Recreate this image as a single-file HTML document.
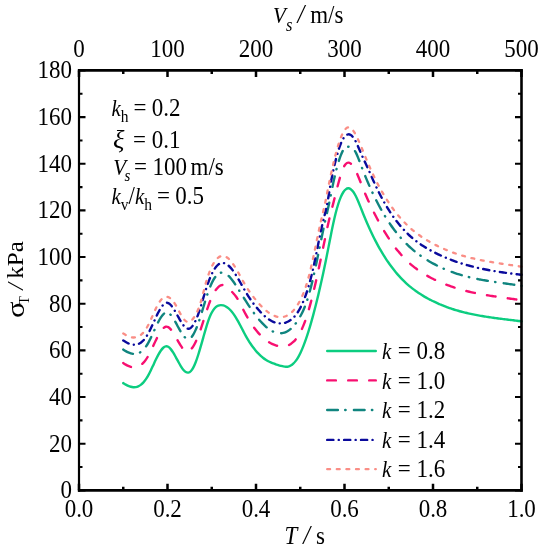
<!DOCTYPE html>
<html><head><meta charset="utf-8"><title>chart</title>
<style>
html,body{margin:0;padding:0;background:#fff;}
body{width:542px;height:550px;overflow:hidden;}
svg text.t{font-family:"Liberation Serif","DejaVu Serif",serif;font-size:23.0px;fill:#000;}
svg .i{font-style:italic;font-size:21px;}
svg .s{font-size:15.5px;}
svg .s.i{font-size:15px;}
</style></head><body>
<svg width="542" height="550" viewBox="0 0 542 550" style="display:block">
<rect x="0" y="0" width="542" height="550" fill="#fff"/>
<path d="M79.00 490.35 v-6.5 M79.00 70.45 v6.5 M123.25 490.35 v-3.5 M123.25 70.45 v3.5 M167.50 490.35 v-6.5 M167.50 70.45 v6.5 M211.75 490.35 v-3.5 M211.75 70.45 v3.5 M256.00 490.35 v-6.5 M256.00 70.45 v6.5 M300.25 490.35 v-3.5 M300.25 70.45 v3.5 M344.50 490.35 v-6.5 M344.50 70.45 v6.5 M388.75 490.35 v-3.5 M388.75 70.45 v3.5 M433.00 490.35 v-6.5 M433.00 70.45 v6.5 M477.25 490.35 v-3.5 M477.25 70.45 v3.5 M521.50 490.35 v-6.5 M521.50 70.45 v6.5" stroke="#000" stroke-width="2.5" fill="none"/>
<path d="M79.0 490.35 h6.5 M521.5 490.35 h-6.5 M79.0 467.02 h3.5 M521.5 467.02 h-3.5 M79.0 443.69 h6.5 M521.5 443.69 h-6.5 M79.0 420.37 h3.5 M521.5 420.37 h-3.5 M79.0 397.04 h6.5 M521.5 397.04 h-6.5 M79.0 373.71 h3.5 M521.5 373.71 h-3.5 M79.0 350.38 h6.5 M521.5 350.38 h-6.5 M79.0 327.06 h3.5 M521.5 327.06 h-3.5 M79.0 303.73 h6.5 M521.5 303.73 h-6.5 M79.0 280.40 h3.5 M521.5 280.40 h-3.5 M79.0 257.07 h6.5 M521.5 257.07 h-6.5 M79.0 233.74 h3.5 M521.5 233.74 h-3.5 M79.0 210.42 h6.5 M521.5 210.42 h-6.5 M79.0 187.09 h3.5 M521.5 187.09 h-3.5 M79.0 163.76 h6.5 M521.5 163.76 h-6.5 M79.0 140.43 h3.5 M521.5 140.43 h-3.5 M79.0 117.11 h6.5 M521.5 117.11 h-6.5 M79.0 93.78 h3.5 M521.5 93.78 h-3.5 M79.0 70.45 h6.5 M521.5 70.45 h-6.5" stroke="#000" stroke-width="2.1" fill="none"/>
<path d="M123.26 383.12 C123.68 383.37 124.93 384.18 125.76 384.64 C126.59 385.10 127.43 385.54 128.26 385.89 C129.09 386.24 129.93 386.54 130.76 386.76 C131.59 386.98 132.43 387.13 133.26 387.18 C134.09 387.23 134.93 387.20 135.76 387.06 C136.59 386.92 137.43 386.68 138.26 386.31 C139.09 385.94 139.93 385.47 140.76 384.85 C141.59 384.23 142.43 383.49 143.26 382.59 C144.09 381.69 144.93 380.65 145.76 379.44 C146.59 378.23 147.43 376.84 148.26 375.34 C149.09 373.84 149.93 372.14 150.76 370.44 C151.59 368.74 152.43 366.92 153.26 365.15 C154.09 363.38 154.93 361.55 155.76 359.84 C156.59 358.13 157.43 356.43 158.26 354.91 C159.09 353.40 159.93 351.94 160.76 350.75 C161.59 349.56 162.43 348.50 163.26 347.76 C164.09 347.02 164.93 346.49 165.76 346.33 C166.59 346.17 167.43 346.35 168.26 346.81 C169.09 347.27 169.93 348.12 170.76 349.10 C171.59 350.08 172.43 351.36 173.26 352.68 C174.09 354.00 174.93 355.55 175.76 357.05 C176.59 358.55 177.43 360.17 178.26 361.67 C179.09 363.17 179.93 364.72 180.76 366.05 C181.59 367.38 182.43 368.68 183.26 369.67 C184.09 370.66 184.93 371.51 185.76 372.00 C186.59 372.49 187.43 372.74 188.26 372.61 C189.09 372.48 189.93 372.06 190.76 371.24 C191.59 370.42 192.43 369.21 193.26 367.67 C194.09 366.13 194.93 364.16 195.76 362.01 C196.59 359.86 197.43 357.35 198.26 354.75 C199.09 352.15 199.93 349.29 200.76 346.43 C201.59 343.57 202.43 340.51 203.26 337.58 C204.09 334.65 204.93 331.63 205.76 328.86 C206.59 326.09 207.43 323.34 208.26 320.96 C209.09 318.58 209.93 316.40 210.76 314.58 C211.59 312.76 212.43 311.30 213.26 310.06 C214.09 308.82 214.93 307.89 215.76 307.15 C216.59 306.40 217.43 305.93 218.26 305.59 C219.09 305.25 219.93 305.13 220.76 305.10 C221.59 305.07 222.43 305.20 223.26 305.42 C224.09 305.64 224.93 305.99 225.76 306.45 C226.59 306.91 227.43 307.48 228.26 308.16 C229.09 308.84 229.93 309.64 230.76 310.55 C231.59 311.46 232.43 312.49 233.26 313.63 C234.09 314.77 234.93 316.03 235.76 317.37 C236.59 318.71 237.43 320.18 238.26 321.68 C239.09 323.18 239.93 324.78 240.76 326.35 C241.59 327.93 242.43 329.56 243.26 331.13 C244.09 332.70 244.93 334.30 245.76 335.80 C246.59 337.30 247.43 338.76 248.26 340.13 C249.09 341.50 249.93 342.80 250.76 344.04 C251.59 345.28 252.43 346.44 253.26 347.55 C254.09 348.66 254.93 349.70 255.76 350.68 C256.59 351.66 257.43 352.58 258.26 353.45 C259.09 354.31 259.93 355.12 260.76 355.87 C261.59 356.62 262.43 357.31 263.26 357.96 C264.09 358.61 264.93 359.20 265.76 359.75 C266.59 360.30 267.43 360.79 268.26 361.24 C269.09 361.69 269.93 362.09 270.76 362.46 C271.59 362.83 272.43 363.15 273.26 363.46 C274.09 363.77 274.93 364.04 275.76 364.31 C276.59 364.58 277.43 364.82 278.26 365.07 C279.09 365.32 279.93 365.57 280.76 365.80 C281.59 366.03 282.43 366.28 283.26 366.44 C284.09 366.60 284.93 366.75 285.76 366.77 C286.59 366.79 287.43 366.75 288.26 366.55 C289.09 366.35 289.93 366.04 290.76 365.56 C291.59 365.08 292.43 364.46 293.26 363.68 C294.09 362.90 294.93 361.96 295.76 360.86 C296.59 359.76 297.43 358.50 298.26 357.06 C299.09 355.62 299.93 354.00 300.76 352.22 C301.59 350.44 302.43 348.48 303.26 346.39 C304.09 344.30 304.93 342.04 305.76 339.66 C306.59 337.28 307.43 334.74 308.26 332.10 C309.09 329.46 309.93 326.69 310.76 323.82 C311.59 320.95 312.43 317.96 313.26 314.88 C314.09 311.80 314.93 308.60 315.76 305.31 C316.59 302.02 317.43 298.62 318.26 295.12 C319.09 291.62 319.93 288.01 320.76 284.31 C321.59 280.61 322.43 276.81 323.26 272.91 C324.09 269.01 324.93 265.00 325.76 260.91 C326.59 256.82 327.43 252.57 328.26 248.36 C329.09 244.15 329.93 239.78 330.76 235.65 C331.59 231.52 332.43 227.36 333.26 223.55 C334.09 219.75 334.93 216.08 335.76 212.82 C336.59 209.56 337.43 206.61 338.26 203.99 C339.09 201.37 339.93 199.08 340.76 197.12 C341.59 195.16 342.43 193.53 343.26 192.23 C344.09 190.93 344.93 189.97 345.76 189.32 C346.59 188.67 347.43 188.34 348.26 188.31 C349.09 188.28 349.93 188.57 350.76 189.15 C351.59 189.73 352.43 190.62 353.26 191.77 C354.09 192.92 354.93 194.41 355.76 196.03 C356.59 197.65 357.43 199.57 358.26 201.51 C359.09 203.45 359.93 205.59 360.76 207.67 C361.59 209.75 362.43 211.92 363.26 213.98 C364.09 216.04 364.93 218.07 365.76 220.04 C366.59 222.01 367.43 223.93 368.26 225.80 C369.09 227.67 369.93 229.49 370.76 231.27 C371.59 233.05 372.43 234.78 373.26 236.47 C374.09 238.16 374.93 239.79 375.76 241.39 C376.59 242.99 377.43 244.55 378.26 246.06 C379.09 247.57 379.93 249.04 380.76 250.47 C381.59 251.90 382.43 253.29 383.26 254.64 C384.09 255.99 384.93 257.30 385.76 258.58 C386.59 259.86 387.43 261.09 388.26 262.29 C389.09 263.49 389.93 264.66 390.76 265.79 C391.59 266.92 392.43 268.02 393.26 269.09 C394.09 270.15 394.93 271.18 395.76 272.18 C396.59 273.18 397.43 274.15 398.26 275.09 C399.09 276.03 399.93 276.94 400.76 277.82 C401.59 278.70 402.43 279.56 403.26 280.39 C404.09 281.22 404.93 282.01 405.76 282.79 C406.59 283.57 407.43 284.31 408.26 285.04 C409.09 285.77 409.93 286.47 410.76 287.15 C411.59 287.83 412.43 288.49 413.26 289.13 C414.09 289.77 414.93 290.38 415.76 290.98 C416.59 291.58 417.43 292.16 418.26 292.72 C419.09 293.28 419.93 293.83 420.76 294.36 C421.59 294.89 422.43 295.40 423.26 295.90 C424.09 296.40 424.93 296.88 425.76 297.35 C426.59 297.82 427.43 298.27 428.26 298.72 C429.09 299.17 429.93 299.60 430.76 300.03 C431.59 300.46 432.43 300.88 433.26 301.28 C434.09 301.68 434.93 302.07 435.76 302.46 C436.59 302.84 437.43 303.22 438.26 303.59 C439.09 303.96 439.93 304.31 440.76 304.66 C441.59 305.01 442.43 305.35 443.26 305.68 C444.09 306.01 444.93 306.33 445.76 306.64 C446.59 306.95 447.43 307.26 448.26 307.56 C449.09 307.86 449.93 308.15 450.76 308.43 C451.59 308.71 452.43 308.98 453.26 309.25 C454.09 309.52 454.93 309.78 455.76 310.03 C456.59 310.28 457.43 310.53 458.26 310.77 C459.09 311.01 459.93 311.25 460.76 311.47 C461.59 311.70 462.43 311.91 463.26 312.12 C464.09 312.33 464.93 312.55 465.76 312.75 C466.59 312.95 467.43 313.15 468.26 313.34 C469.09 313.53 469.93 313.71 470.76 313.89 C471.59 314.07 472.43 314.25 473.26 314.42 C474.09 314.59 474.93 314.76 475.76 314.92 C476.59 315.08 477.43 315.24 478.26 315.39 C479.09 315.54 479.93 315.69 480.76 315.84 C481.59 315.98 482.43 316.12 483.26 316.26 C484.09 316.40 484.93 316.54 485.76 316.67 C486.59 316.80 487.43 316.93 488.26 317.05 C489.09 317.18 489.93 317.30 490.76 317.42 C491.59 317.54 492.43 317.65 493.26 317.77 C494.09 317.89 494.93 318.01 495.76 318.12 C496.59 318.23 497.43 318.34 498.26 318.45 C499.09 318.56 499.93 318.66 500.76 318.77 C501.59 318.88 502.43 318.98 503.26 319.08 C504.09 319.18 504.93 319.29 505.76 319.39 C506.59 319.49 507.43 319.60 508.26 319.70 C509.09 319.80 509.93 319.91 510.76 320.01 C511.59 320.11 512.43 320.21 513.26 320.31 C514.09 320.41 514.93 320.51 515.76 320.62 C516.59 320.73 517.43 320.83 518.26 320.94 C519.09 321.05 520.20 321.19 520.76 321.26 C521.32 321.33 521.46 321.35 521.60 321.37" fill="none" stroke="#0ccd80" stroke-width="2.4" stroke-linejoin="round" stroke-linecap="round"/>
<path d="M123.26 363.02 C123.68 363.29 124.93 364.16 125.76 364.65 C126.59 365.14 127.43 365.58 128.26 365.95 C129.09 366.32 129.93 366.63 130.76 366.86 C131.59 367.09 132.43 367.24 133.26 367.30 C134.09 367.36 134.93 367.34 135.76 367.20 C136.59 367.06 137.43 366.84 138.26 366.48 C139.09 366.12 139.93 365.66 140.76 365.06 C141.59 364.46 142.43 363.74 143.26 362.87 C144.09 362.00 144.93 361.00 145.76 359.84 C146.59 358.68 147.43 357.35 148.26 355.89 C149.09 354.43 149.93 352.77 150.76 351.10 C151.59 349.43 152.43 347.61 153.26 345.85 C154.09 344.09 154.93 342.25 155.76 340.53 C156.59 338.81 157.43 337.09 158.26 335.56 C159.09 334.03 159.93 332.55 160.76 331.33 C161.59 330.11 162.43 329.02 163.26 328.25 C164.09 327.48 164.93 326.92 165.76 326.73 C166.59 326.54 167.43 326.69 168.26 327.13 C169.09 327.56 169.93 328.39 170.76 329.34 C171.59 330.29 172.43 331.54 173.26 332.83 C174.09 334.12 174.93 335.62 175.76 337.07 C176.59 338.52 177.43 340.10 178.26 341.54 C179.09 342.98 179.93 344.46 180.76 345.71 C181.59 346.96 182.43 348.16 183.26 349.04 C184.09 349.92 184.93 350.65 185.76 351.00 C186.59 351.35 187.43 351.40 188.26 351.16 C189.09 350.92 189.93 350.35 190.76 349.54 C191.59 348.74 192.43 347.63 193.26 346.33 C194.09 345.03 194.93 343.46 195.76 341.72 C196.59 339.98 197.43 338.01 198.26 335.90 C199.09 333.79 199.93 331.47 200.76 329.06 C201.59 326.65 202.43 324.02 203.26 321.44 C204.09 318.86 204.93 316.12 205.76 313.56 C206.59 311.00 207.43 308.40 208.26 306.06 C209.09 303.72 209.93 301.51 210.76 299.52 C211.59 297.53 212.43 295.73 213.26 294.14 C214.09 292.55 214.93 291.16 215.76 289.98 C216.59 288.80 217.43 287.81 218.26 287.05 C219.09 286.29 219.93 285.74 220.76 285.42 C221.59 285.10 222.43 285.00 223.26 285.11 C224.09 285.22 224.93 285.61 225.76 286.10 C226.59 286.59 227.43 287.32 228.26 288.07 C229.09 288.82 229.93 289.72 230.76 290.58 C231.59 291.44 232.43 292.31 233.26 293.25 C234.09 294.19 234.93 295.09 235.76 296.21 C236.59 297.33 237.43 298.57 238.26 299.99 C239.09 301.41 239.93 303.09 240.76 304.71 C241.59 306.33 242.43 308.09 243.26 309.71 C244.09 311.33 244.93 312.92 245.76 314.44 C246.59 315.96 247.43 317.41 248.26 318.81 C249.09 320.21 249.93 321.55 250.76 322.83 C251.59 324.11 252.43 325.33 253.26 326.50 C254.09 327.67 254.93 328.78 255.76 329.84 C256.59 330.90 257.43 331.90 258.26 332.85 C259.09 333.80 259.93 334.70 260.76 335.54 C261.59 336.38 262.43 337.17 263.26 337.91 C264.09 338.65 264.93 339.34 265.76 339.98 C266.59 340.62 267.43 341.21 268.26 341.75 C269.09 342.29 269.93 342.79 270.76 343.23 C271.59 343.68 272.43 344.07 273.26 344.42 C274.09 344.77 274.93 345.08 275.76 345.34 C276.59 345.60 277.43 345.83 278.26 346.00 C279.09 346.17 279.93 346.31 280.76 346.38 C281.59 346.45 282.43 346.49 283.26 346.45 C284.09 346.41 284.93 346.31 285.76 346.13 C286.59 345.94 287.43 345.70 288.26 345.34 C289.09 344.98 289.93 344.54 290.76 343.98 C291.59 343.42 292.43 342.77 293.26 341.99 C294.09 341.21 294.93 340.32 295.76 339.28 C296.59 338.24 297.43 337.08 298.26 335.76 C299.09 334.44 299.93 332.98 300.76 331.33 C301.59 329.68 302.43 327.88 303.26 325.88 C304.09 323.88 304.93 321.69 305.76 319.30 C306.59 316.91 307.43 314.30 308.26 311.53 C309.09 308.76 309.93 305.78 310.76 302.66 C311.59 299.54 312.43 296.24 313.26 292.83 C314.09 289.42 314.93 285.84 315.76 282.18 C316.59 278.52 317.43 274.72 318.26 270.87 C319.09 267.02 319.93 263.06 320.76 259.10 C321.59 255.14 322.43 251.11 323.26 247.11 C324.09 243.11 324.93 239.05 325.76 235.12 C326.59 231.19 327.43 227.22 328.26 223.53 C329.09 219.84 329.93 216.34 330.76 212.98 C331.59 209.61 332.43 206.57 333.26 203.34 C334.09 200.11 334.93 196.84 335.76 193.58 C336.59 190.32 337.43 186.88 338.26 183.77 C339.09 180.66 339.93 177.53 340.76 174.91 C341.59 172.29 342.43 169.86 343.26 168.04 C344.09 166.22 344.93 164.88 345.76 163.98 C346.59 163.08 347.43 162.69 348.26 162.63 C349.09 162.57 349.93 162.95 350.76 163.60 C351.59 164.25 352.43 165.28 353.26 166.50 C354.09 167.72 354.93 169.28 355.76 170.94 C356.59 172.60 357.43 174.53 358.26 176.48 C359.09 178.43 359.93 180.56 360.76 182.64 C361.59 184.72 362.43 186.91 363.26 188.98 C364.09 191.05 364.93 193.10 365.76 195.05 C366.59 197.00 367.43 198.85 368.26 200.67 C369.09 202.49 369.93 204.25 370.76 205.99 C371.59 207.73 372.43 209.44 373.26 211.11 C374.09 212.78 374.93 214.42 375.76 216.03 C376.59 217.64 377.43 219.21 378.26 220.75 C379.09 222.29 379.93 223.80 380.76 225.27 C381.59 226.74 382.43 228.18 383.26 229.59 C384.09 231.00 384.93 232.37 385.76 233.71 C386.59 235.05 387.43 236.35 388.26 237.63 C389.09 238.91 389.93 240.15 390.76 241.36 C391.59 242.57 392.43 243.75 393.26 244.89 C394.09 246.03 394.93 247.14 395.76 248.22 C396.59 249.30 397.43 250.35 398.26 251.36 C399.09 252.38 399.93 253.36 400.76 254.31 C401.59 255.26 402.43 256.17 403.26 257.06 C404.09 257.95 404.93 258.81 405.76 259.64 C406.59 260.47 407.43 261.27 408.26 262.04 C409.09 262.81 409.93 263.56 410.76 264.28 C411.59 265.00 412.43 265.70 413.26 266.37 C414.09 267.04 414.93 267.69 415.76 268.32 C416.59 268.95 417.43 269.56 418.26 270.15 C419.09 270.74 419.93 271.30 420.76 271.85 C421.59 272.40 422.43 272.93 423.26 273.45 C424.09 273.97 424.93 274.46 425.76 274.95 C426.59 275.44 427.43 275.91 428.26 276.37 C429.09 276.83 429.93 277.27 430.76 277.71 C431.59 278.15 432.43 278.57 433.26 278.99 C434.09 279.41 434.93 279.81 435.76 280.20 C436.59 280.59 437.43 280.98 438.26 281.36 C439.09 281.74 439.93 282.11 440.76 282.47 C441.59 282.83 442.43 283.17 443.26 283.51 C444.09 283.85 444.93 284.19 445.76 284.51 C446.59 284.83 447.43 285.15 448.26 285.46 C449.09 285.77 449.93 286.06 450.76 286.35 C451.59 286.64 452.43 286.93 453.26 287.21 C454.09 287.49 454.93 287.75 455.76 288.01 C456.59 288.27 457.43 288.53 458.26 288.78 C459.09 289.03 459.93 289.27 460.76 289.51 C461.59 289.75 462.43 289.97 463.26 290.19 C464.09 290.41 464.93 290.64 465.76 290.85 C466.59 291.06 467.43 291.26 468.26 291.46 C469.09 291.66 469.93 291.86 470.76 292.05 C471.59 292.24 472.43 292.43 473.26 292.61 C474.09 292.79 474.93 292.96 475.76 293.13 C476.59 293.30 477.43 293.47 478.26 293.64 C479.09 293.81 479.93 293.97 480.76 294.12 C481.59 294.27 482.43 294.42 483.26 294.57 C484.09 294.72 484.93 294.87 485.76 295.01 C486.59 295.15 487.43 295.29 488.26 295.43 C489.09 295.57 489.93 295.70 490.76 295.83 C491.59 295.96 492.43 296.09 493.26 296.22 C494.09 296.35 494.93 296.47 495.76 296.59 C496.59 296.71 497.43 296.84 498.26 296.96 C499.09 297.08 499.93 297.20 500.76 297.32 C501.59 297.44 502.43 297.55 503.26 297.67 C504.09 297.79 504.93 297.90 505.76 298.02 C506.59 298.14 507.43 298.25 508.26 298.37 C509.09 298.49 509.93 298.61 510.76 298.72 C511.59 298.84 512.43 298.94 513.26 299.06 C514.09 299.18 514.93 299.30 515.76 299.42 C516.59 299.54 517.43 299.66 518.26 299.78 C519.09 299.90 520.20 300.06 520.76 300.14 C521.32 300.22 521.46 300.25 521.60 300.27" fill="none" stroke="#f80f70" stroke-width="2.4" stroke-dasharray="8.7 12.3" stroke-linejoin="round" stroke-linecap="round"/>
<path d="M123.26 349.57 C123.68 349.83 124.93 350.66 125.76 351.14 C126.59 351.62 127.43 352.06 128.26 352.44 C129.09 352.82 129.93 353.15 130.76 353.40 C131.59 353.64 132.43 353.83 133.26 353.91 C134.09 353.99 134.93 354.01 135.76 353.90 C136.59 353.79 137.43 353.60 138.26 353.27 C139.09 352.94 139.93 352.51 140.76 351.93 C141.59 351.35 142.43 350.67 143.26 349.81 C144.09 348.95 144.93 347.96 145.76 346.80 C146.59 345.64 147.43 344.30 148.26 342.83 C149.09 341.36 149.93 339.68 150.76 337.97 C151.59 336.27 152.43 334.41 153.26 332.60 C154.09 330.79 154.93 328.90 155.76 327.13 C156.59 325.36 157.43 323.57 158.26 321.98 C159.09 320.39 159.93 318.85 160.76 317.57 C161.59 316.29 162.43 315.13 163.26 314.30 C164.09 313.47 164.93 312.83 165.76 312.59 C166.59 312.34 167.43 312.44 168.26 312.83 C169.09 313.22 169.93 313.99 170.76 314.91 C171.59 315.83 172.43 317.05 173.26 318.34 C174.09 319.62 174.93 321.14 175.76 322.62 C176.59 324.10 177.43 325.73 178.26 327.24 C179.09 328.75 179.93 330.32 180.76 331.69 C181.59 333.06 182.43 334.41 183.26 335.48 C184.09 336.55 184.93 337.50 185.76 338.10 C186.59 338.70 187.43 339.09 188.26 339.05 C189.09 339.01 189.93 338.61 190.76 337.87 C191.59 337.13 192.43 336.00 193.26 334.63 C194.09 333.26 194.93 331.54 195.76 329.64 C196.59 327.74 197.43 325.55 198.26 323.23 C199.09 320.91 199.93 318.35 200.76 315.73 C201.59 313.11 202.43 310.25 203.26 307.52 C204.09 304.79 204.93 301.96 205.76 299.34 C206.59 296.72 207.43 294.15 208.26 291.81 C209.09 289.47 209.93 287.25 210.76 285.30 C211.59 283.35 212.43 281.61 213.26 280.12 C214.09 278.63 214.93 277.40 215.76 276.37 C216.59 275.34 217.43 274.55 218.26 273.95 C219.09 273.35 219.93 272.97 220.76 272.77 C221.59 272.57 222.43 272.57 223.26 272.73 C224.09 272.89 224.93 273.25 225.76 273.73 C226.59 274.22 227.43 274.88 228.26 275.64 C229.09 276.40 229.93 277.32 230.76 278.30 C231.59 279.28 232.43 280.39 233.26 281.54 C234.09 282.69 234.93 283.93 235.76 285.18 C236.59 286.44 237.43 287.76 238.26 289.07 C239.09 290.38 239.93 291.72 240.76 293.04 C241.59 294.36 242.43 295.69 243.26 297.00 C244.09 298.31 244.93 299.63 245.76 300.93 C246.59 302.23 247.43 303.52 248.26 304.78 C249.09 306.04 249.93 307.29 250.76 308.51 C251.59 309.73 252.43 310.92 253.26 312.08 C254.09 313.24 254.93 314.36 255.76 315.45 C256.59 316.54 257.43 317.61 258.26 318.62 C259.09 319.63 259.93 320.61 260.76 321.54 C261.59 322.47 262.43 323.36 263.26 324.19 C264.09 325.02 264.93 325.81 265.76 326.55 C266.59 327.29 267.43 327.97 268.26 328.60 C269.09 329.23 269.93 329.81 270.76 330.32 C271.59 330.83 272.43 331.28 273.26 331.66 C274.09 332.04 274.93 332.37 275.76 332.62 C276.59 332.87 277.43 333.06 278.26 333.17 C279.09 333.28 279.93 333.32 280.76 333.28 C281.59 333.24 282.43 333.13 283.26 332.93 C284.09 332.73 284.93 332.45 285.76 332.09 C286.59 331.73 287.43 331.29 288.26 330.75 C289.09 330.21 289.93 329.59 290.76 328.87 C291.59 328.15 292.43 327.34 293.26 326.43 C294.09 325.52 294.93 324.51 295.76 323.40 C296.59 322.29 297.43 321.09 298.26 319.77 C299.09 318.45 299.93 317.05 300.76 315.49 C301.59 313.93 302.43 312.27 303.26 310.40 C304.09 308.52 304.93 306.51 305.76 304.24 C306.59 301.97 307.43 299.51 308.26 296.77 C309.09 294.03 309.93 291.01 310.76 287.78 C311.59 284.55 312.43 281.03 313.26 277.41 C314.09 273.79 314.93 269.94 315.76 266.04 C316.59 262.14 317.43 258.07 318.26 254.03 C319.09 249.99 319.93 245.83 320.76 241.77 C321.59 237.71 322.43 233.61 323.26 229.68 C324.09 225.75 324.93 221.91 325.76 218.19 C326.59 214.47 327.43 211.16 328.26 207.34 C329.09 203.52 329.93 199.33 330.76 195.26 C331.59 191.19 332.43 186.76 333.26 182.90 C334.09 179.04 334.93 175.42 335.76 172.08 C336.59 168.74 337.43 165.65 338.26 162.86 C339.09 160.07 339.93 157.48 340.76 155.35 C341.59 153.22 342.43 151.39 343.26 150.08 C344.09 148.77 344.93 148.04 345.76 147.49 C346.59 146.94 347.43 146.85 348.26 146.79 C349.09 146.73 349.93 146.79 350.76 147.13 C351.59 147.47 352.43 147.93 353.26 148.81 C354.09 149.69 354.93 150.89 355.76 152.44 C356.59 153.99 357.43 156.09 358.26 158.12 C359.09 160.16 359.93 162.49 360.76 164.65 C361.59 166.81 362.43 169.00 363.26 171.11 C364.09 173.23 364.93 175.31 365.76 177.34 C366.59 179.37 367.43 181.35 368.26 183.29 C369.09 185.22 369.93 187.11 370.76 188.95 C371.59 190.79 372.43 192.58 373.26 194.33 C374.09 196.08 374.93 197.79 375.76 199.45 C376.59 201.11 377.43 202.72 378.26 204.30 C379.09 205.88 379.93 207.41 380.76 208.91 C381.59 210.41 382.43 211.85 383.26 213.27 C384.09 214.69 384.93 216.07 385.76 217.41 C386.59 218.75 387.43 220.04 388.26 221.31 C389.09 222.58 389.93 223.81 390.76 225.01 C391.59 226.21 392.43 227.37 393.26 228.50 C394.09 229.63 394.93 230.72 395.76 231.79 C396.59 232.85 397.43 233.88 398.26 234.89 C399.09 235.89 399.93 236.87 400.76 237.82 C401.59 238.77 402.43 239.68 403.26 240.57 C404.09 241.46 404.93 242.33 405.76 243.17 C406.59 244.01 407.43 244.82 408.26 245.61 C409.09 246.40 409.93 247.17 410.76 247.91 C411.59 248.65 412.43 249.37 413.26 250.07 C414.09 250.77 414.93 251.45 415.76 252.11 C416.59 252.77 417.43 253.41 418.26 254.03 C419.09 254.65 419.93 255.25 420.76 255.84 C421.59 256.43 422.43 257.00 423.26 257.56 C424.09 258.12 424.93 258.66 425.76 259.19 C426.59 259.72 427.43 260.23 428.26 260.73 C429.09 261.23 429.93 261.72 430.76 262.20 C431.59 262.68 432.43 263.15 433.26 263.60 C434.09 264.06 434.93 264.50 435.76 264.93 C436.59 265.36 437.43 265.78 438.26 266.19 C439.09 266.60 439.93 267.00 440.76 267.39 C441.59 267.78 442.43 268.15 443.26 268.52 C444.09 268.89 444.93 269.24 445.76 269.59 C446.59 269.94 447.43 270.28 448.26 270.61 C449.09 270.94 449.93 271.26 450.76 271.57 C451.59 271.88 452.43 272.18 453.26 272.47 C454.09 272.76 454.93 273.05 455.76 273.33 C456.59 273.61 457.43 273.88 458.26 274.14 C459.09 274.40 459.93 274.65 460.76 274.90 C461.59 275.15 462.43 275.39 463.26 275.62 C464.09 275.85 464.93 276.08 465.76 276.30 C466.59 276.52 467.43 276.73 468.26 276.94 C469.09 277.15 469.93 277.35 470.76 277.54 C471.59 277.74 472.43 277.93 473.26 278.11 C474.09 278.30 474.93 278.47 475.76 278.65 C476.59 278.82 477.43 279.00 478.26 279.16 C479.09 279.33 479.93 279.48 480.76 279.64 C481.59 279.80 482.43 279.95 483.26 280.10 C484.09 280.25 484.93 280.40 485.76 280.54 C486.59 280.68 487.43 280.81 488.26 280.95 C489.09 281.08 489.93 281.22 490.76 281.35 C491.59 281.48 492.43 281.61 493.26 281.74 C494.09 281.87 494.93 281.99 495.76 282.11 C496.59 282.23 497.43 282.36 498.26 282.48 C499.09 282.60 499.93 282.72 500.76 282.84 C501.59 282.96 502.43 283.07 503.26 283.19 C504.09 283.31 504.93 283.42 505.76 283.54 C506.59 283.66 507.43 283.77 508.26 283.89 C509.09 284.01 509.93 284.12 510.76 284.24 C511.59 284.36 512.43 284.48 513.26 284.60 C514.09 284.72 514.93 284.84 515.76 284.96 C516.59 285.08 517.43 285.20 518.26 285.33 C519.09 285.46 520.20 285.63 520.76 285.72 C521.32 285.81 521.46 285.83 521.60 285.85" fill="none" stroke="#10857f" stroke-width="2.4" stroke-dasharray="10.7 7.3 0.4 8.3" stroke-linejoin="round" stroke-linecap="round"/>
<path d="M123.26 340.44 C123.68 340.70 124.93 341.55 125.76 342.03 C126.59 342.51 127.43 342.96 128.26 343.34 C129.09 343.71 129.93 344.04 130.76 344.28 C131.59 344.52 132.43 344.70 133.26 344.77 C134.09 344.84 134.93 344.84 135.76 344.72 C136.59 344.60 137.43 344.39 138.26 344.05 C139.09 343.71 139.93 343.27 140.76 342.68 C141.59 342.09 142.43 341.38 143.26 340.51 C144.09 339.64 144.93 338.64 145.76 337.47 C146.59 336.30 147.43 334.96 148.26 333.48 C149.09 332.00 149.93 330.31 150.76 328.60 C151.59 326.89 152.43 325.03 153.26 323.22 C154.09 321.41 154.93 319.51 155.76 317.74 C156.59 315.97 157.43 314.17 158.26 312.57 C159.09 310.97 159.93 309.42 160.76 308.12 C161.59 306.82 162.43 305.64 163.26 304.79 C164.09 303.94 164.93 303.28 165.76 303.00 C166.59 302.72 167.43 302.77 168.26 303.11 C169.09 303.45 169.93 304.18 170.76 305.04 C171.59 305.91 172.43 307.07 173.26 308.30 C174.09 309.53 174.93 310.99 175.76 312.42 C176.59 313.85 177.43 315.42 178.26 316.90 C179.09 318.38 179.93 319.91 180.76 321.27 C181.59 322.62 182.43 323.96 183.26 325.03 C184.09 326.10 184.93 327.07 185.76 327.70 C186.59 328.33 187.43 328.76 188.26 328.79 C189.09 328.82 189.93 328.51 190.76 327.87 C191.59 327.23 192.43 326.21 193.26 324.94 C194.09 323.67 194.93 322.07 195.76 320.25 C196.59 318.43 197.43 316.33 198.26 314.04 C199.09 311.75 199.93 309.18 200.76 306.54 C201.59 303.90 202.43 300.97 203.26 298.20 C204.09 295.43 204.93 292.53 205.76 289.91 C206.59 287.29 207.43 284.79 208.26 282.50 C209.09 280.21 209.93 278.10 210.76 276.19 C211.59 274.28 212.43 272.57 213.26 271.07 C214.09 269.57 214.93 268.28 215.76 267.21 C216.59 266.14 217.43 265.29 218.26 264.63 C219.09 263.97 219.93 263.54 220.76 263.27 C221.59 263.00 222.43 262.93 223.26 263.01 C224.09 263.09 224.93 263.37 225.76 263.77 C226.59 264.17 227.43 264.73 228.26 265.42 C229.09 266.11 229.93 266.95 230.76 267.89 C231.59 268.83 232.43 269.91 233.26 271.06 C234.09 272.21 234.93 273.48 235.76 274.79 C236.59 276.10 237.43 277.50 238.26 278.91 C239.09 280.32 239.93 281.81 240.76 283.27 C241.59 284.73 242.43 286.23 243.26 287.68 C244.09 289.13 244.93 290.60 245.76 291.99 C246.59 293.38 247.43 294.73 248.26 296.03 C249.09 297.33 249.93 298.58 250.76 299.79 C251.59 301.00 252.43 302.16 253.26 303.28 C254.09 304.40 254.93 305.48 255.76 306.53 C256.59 307.57 257.43 308.59 258.26 309.55 C259.09 310.51 259.93 311.43 260.76 312.31 C261.59 313.19 262.43 314.03 263.26 314.81 C264.09 315.59 264.93 316.32 265.76 317.01 C266.59 317.69 267.43 318.34 268.26 318.92 C269.09 319.50 269.93 320.04 270.76 320.52 C271.59 321.00 272.43 321.42 273.26 321.78 C274.09 322.14 274.93 322.45 275.76 322.69 C276.59 322.93 277.43 323.12 278.26 323.24 C279.09 323.36 279.93 323.42 280.76 323.41 C281.59 323.40 282.43 323.33 283.26 323.19 C284.09 323.05 284.93 322.83 285.76 322.55 C286.59 322.27 287.43 321.92 288.26 321.49 C289.09 321.06 289.93 320.56 290.76 319.95 C291.59 319.34 292.43 318.65 293.26 317.83 C294.09 317.01 294.93 316.09 295.76 315.03 C296.59 313.97 297.43 312.79 298.26 311.45 C299.09 310.11 299.93 308.65 300.76 307.00 C301.59 305.35 302.43 303.56 303.26 301.57 C304.09 299.58 304.93 297.43 305.76 295.06 C306.59 292.69 307.43 290.15 308.26 287.38 C309.09 284.61 309.93 281.64 310.76 278.42 C311.59 275.20 312.43 271.76 313.26 268.08 C314.09 264.40 314.93 260.39 315.76 256.35 C316.59 252.31 317.43 247.97 318.26 243.83 C319.09 239.69 319.93 235.42 320.76 231.53 C321.59 227.64 322.43 223.96 323.26 220.47 C324.09 216.98 324.93 214.34 325.76 210.60 C326.59 206.86 327.43 202.61 328.26 198.01 C329.09 193.41 329.93 187.57 330.76 183.01 C331.59 178.45 332.43 174.47 333.26 170.63 C334.09 166.79 334.93 163.25 335.76 159.96 C336.59 156.68 337.43 153.62 338.26 150.92 C339.09 148.21 339.93 145.79 340.76 143.73 C341.59 141.67 342.43 139.96 343.26 138.58 C344.09 137.21 344.93 136.19 345.76 135.48 C346.59 134.77 347.43 134.41 348.26 134.33 C349.09 134.26 349.93 134.51 350.76 135.03 C351.59 135.55 352.43 136.38 353.26 137.47 C354.09 138.56 354.93 139.98 355.76 141.56 C356.59 143.14 357.43 145.09 358.26 146.97 C359.09 148.85 359.93 150.94 360.76 152.84 C361.59 154.75 362.43 156.59 363.26 158.40 C364.09 160.21 364.93 161.93 365.76 163.71 C366.59 165.49 367.43 167.25 368.26 169.08 C369.09 170.91 369.93 172.82 370.76 174.71 C371.59 176.60 372.43 178.55 373.26 180.42 C374.09 182.29 374.93 184.13 375.76 185.91 C376.59 187.69 377.43 189.42 378.26 191.11 C379.09 192.80 379.93 194.44 380.76 196.03 C381.59 197.62 382.43 199.17 383.26 200.67 C384.09 202.17 384.93 203.62 385.76 205.04 C386.59 206.46 387.43 207.83 388.26 209.17 C389.09 210.50 389.93 211.80 390.76 213.05 C391.59 214.31 392.43 215.52 393.26 216.70 C394.09 217.88 394.93 219.01 395.76 220.12 C396.59 221.23 397.43 222.30 398.26 223.34 C399.09 224.38 399.93 225.38 400.76 226.35 C401.59 227.32 402.43 228.26 403.26 229.17 C404.09 230.08 404.93 230.96 405.76 231.81 C406.59 232.66 407.43 233.49 408.26 234.28 C409.09 235.07 409.93 235.84 410.76 236.58 C411.59 237.32 412.43 238.04 413.26 238.74 C414.09 239.44 414.93 240.11 415.76 240.76 C416.59 241.41 417.43 242.04 418.26 242.65 C419.09 243.26 419.93 243.84 420.76 244.41 C421.59 244.98 422.43 245.53 423.26 246.07 C424.09 246.61 424.93 247.13 425.76 247.64 C426.59 248.15 427.43 248.63 428.26 249.11 C429.09 249.59 429.93 250.05 430.76 250.50 C431.59 250.95 432.43 251.40 433.26 251.83 C434.09 252.26 434.93 252.69 435.76 253.10 C436.59 253.51 437.43 253.92 438.26 254.32 C439.09 254.72 439.93 255.11 440.76 255.49 C441.59 255.87 442.43 256.25 443.26 256.61 C444.09 256.98 444.93 257.33 445.76 257.68 C446.59 258.03 447.43 258.38 448.26 258.71 C449.09 259.04 449.93 259.37 450.76 259.69 C451.59 260.01 452.43 260.32 453.26 260.63 C454.09 260.94 454.93 261.24 455.76 261.53 C456.59 261.82 457.43 262.11 458.26 262.39 C459.09 262.67 459.93 262.94 460.76 263.21 C461.59 263.48 462.43 263.74 463.26 263.99 C464.09 264.24 464.93 264.49 465.76 264.73 C466.59 264.97 467.43 265.21 468.26 265.44 C469.09 265.67 469.93 265.90 470.76 266.12 C471.59 266.34 472.43 266.55 473.26 266.76 C474.09 266.97 474.93 267.18 475.76 267.38 C476.59 267.58 477.43 267.77 478.26 267.96 C479.09 268.15 479.93 268.34 480.76 268.52 C481.59 268.70 482.43 268.88 483.26 269.05 C484.09 269.22 484.93 269.39 485.76 269.55 C486.59 269.71 487.43 269.87 488.26 270.03 C489.09 270.19 489.93 270.34 490.76 270.49 C491.59 270.64 492.43 270.78 493.26 270.92 C494.09 271.06 494.93 271.20 495.76 271.34 C496.59 271.47 497.43 271.60 498.26 271.73 C499.09 271.86 499.93 271.99 500.76 272.11 C501.59 272.24 502.43 272.36 503.26 272.48 C504.09 272.60 504.93 272.71 505.76 272.82 C506.59 272.93 507.43 273.05 508.26 273.16 C509.09 273.27 509.93 273.37 510.76 273.48 C511.59 273.59 512.43 273.70 513.26 273.80 C514.09 273.90 514.93 274.00 515.76 274.10 C516.59 274.20 517.43 274.30 518.26 274.40 C519.09 274.50 520.20 274.63 520.76 274.69 C521.32 274.75 521.46 274.76 521.60 274.78" fill="none" stroke="#0a0a9c" stroke-width="2.4" stroke-dasharray="6.2 5.3 0.1 5.3" stroke-linejoin="round" stroke-linecap="round"/>
<path d="M123.26 333.49 C123.68 333.74 124.93 334.54 125.76 335.00 C126.59 335.46 127.43 335.88 128.26 336.23 C129.09 336.58 129.93 336.88 130.76 337.09 C131.59 337.30 132.43 337.45 133.26 337.49 C134.09 337.53 134.93 337.49 135.76 337.33 C136.59 337.17 137.43 336.92 138.26 336.53 C139.09 336.14 139.93 335.64 140.76 334.99 C141.59 334.34 142.43 333.56 143.26 332.62 C144.09 331.68 144.93 330.59 145.76 329.33 C146.59 328.07 147.43 326.62 148.26 325.04 C149.09 323.46 149.93 321.64 150.76 319.84 C151.59 318.04 152.43 316.08 153.26 314.23 C154.09 312.38 154.93 310.46 155.76 308.74 C156.59 307.02 157.43 305.32 158.26 303.89 C159.09 302.46 159.93 301.19 160.76 300.18 C161.59 299.17 162.43 298.41 163.26 297.85 C164.09 297.30 164.93 296.97 165.76 296.85 C166.59 296.73 167.43 296.83 168.26 297.13 C169.09 297.43 169.93 297.94 170.76 298.64 C171.59 299.34 172.43 300.24 173.26 301.33 C174.09 302.42 174.93 303.75 175.76 305.16 C176.59 306.57 177.43 308.23 178.26 309.79 C179.09 311.35 179.93 313.04 180.76 314.50 C181.59 315.96 182.43 317.42 183.26 318.53 C184.09 319.64 184.93 320.58 185.76 321.14 C186.59 321.70 187.43 321.92 188.26 321.89 C189.09 321.86 189.93 321.50 190.76 320.93 C191.59 320.36 192.43 319.50 193.26 318.44 C194.09 317.38 194.93 316.13 195.76 314.60 C196.59 313.07 197.43 311.37 198.26 309.27 C199.09 307.17 199.93 304.77 200.76 302.03 C201.59 299.29 202.43 295.93 203.26 292.83 C204.09 289.73 204.93 286.33 205.76 283.43 C206.59 280.53 207.43 277.85 208.26 275.43 C209.09 273.01 209.93 270.86 210.76 268.93 C211.59 267.00 212.43 265.31 213.26 263.84 C214.09 262.37 214.93 261.13 215.76 260.09 C216.59 259.05 217.43 258.22 218.26 257.58 C219.09 256.94 219.93 256.50 220.76 256.24 C221.59 255.98 222.43 255.91 223.26 255.99 C224.09 256.07 224.93 256.34 225.76 256.75 C226.59 257.16 227.43 257.74 228.26 258.44 C229.09 259.14 229.93 260.01 230.76 260.98 C231.59 261.95 232.43 263.08 233.26 264.28 C234.09 265.48 234.93 266.82 235.76 268.19 C236.59 269.56 237.43 271.03 238.26 272.50 C239.09 273.97 239.93 275.51 240.76 277.02 C241.59 278.53 242.43 280.07 243.26 281.54 C244.09 283.01 244.93 284.49 245.76 285.86 C246.59 287.24 247.43 288.54 248.26 289.79 C249.09 291.04 249.93 292.20 250.76 293.35 C251.59 294.50 252.43 295.59 253.26 296.67 C254.09 297.75 254.93 298.81 255.76 299.83 C256.59 300.85 257.43 301.84 258.26 302.79 C259.09 303.74 259.93 304.67 260.76 305.55 C261.59 306.43 262.43 307.28 263.26 308.08 C264.09 308.88 264.93 309.63 265.76 310.34 C266.59 311.05 267.43 311.71 268.26 312.32 C269.09 312.93 269.93 313.50 270.76 314.00 C271.59 314.50 272.43 314.95 273.26 315.34 C274.09 315.73 274.93 316.06 275.76 316.33 C276.59 316.60 277.43 316.81 278.26 316.94 C279.09 317.07 279.93 317.14 280.76 317.14 C281.59 317.13 282.43 317.07 283.26 316.91 C284.09 316.75 284.93 316.53 285.76 316.21 C286.59 315.89 287.43 315.49 288.26 314.98 C289.09 314.47 289.93 313.88 290.76 313.17 C291.59 312.46 292.43 311.66 293.26 310.74 C294.09 309.82 294.93 308.79 295.76 307.63 C296.59 306.47 297.43 305.19 298.26 303.78 C299.09 302.37 299.93 300.85 300.76 299.16 C301.59 297.47 302.43 295.69 303.26 293.64 C304.09 291.59 304.93 289.40 305.76 286.89 C306.59 284.38 307.43 281.61 308.26 278.56 C309.09 275.51 309.93 272.11 310.76 268.58 C311.59 265.05 312.43 261.24 313.26 257.39 C314.09 253.54 314.93 249.50 315.76 245.50 C316.59 241.50 317.43 237.34 318.26 233.39 C319.09 229.44 319.93 225.47 320.76 221.78 C321.59 218.09 322.43 214.88 323.26 211.24 C324.09 207.60 324.93 203.92 325.76 199.93 C326.59 195.94 327.43 191.40 328.26 187.28 C329.09 183.16 329.93 179.10 330.76 175.23 C331.59 171.35 332.43 167.58 333.26 164.03 C334.09 160.48 334.93 157.07 335.76 153.92 C336.59 150.77 337.43 147.80 338.26 145.12 C339.09 142.44 339.93 139.97 340.76 137.83 C341.59 135.69 342.43 133.81 343.26 132.29 C344.09 130.77 344.93 129.54 345.76 128.71 C346.59 127.88 347.43 127.40 348.26 127.30 C349.09 127.20 349.93 127.52 350.76 128.09 C351.59 128.66 352.43 129.60 353.26 130.72 C354.09 131.84 354.93 133.26 355.76 134.79 C356.59 136.32 357.43 138.10 358.26 139.92 C359.09 141.74 359.93 143.73 360.76 145.71 C361.59 147.69 362.43 149.75 363.26 151.78 C364.09 153.81 364.93 155.86 365.76 157.86 C366.59 159.87 367.43 161.87 368.26 163.81 C369.09 165.75 369.93 167.65 370.76 169.50 C371.59 171.35 372.43 173.14 373.26 174.90 C374.09 176.66 374.93 178.37 375.76 180.04 C376.59 181.71 377.43 183.33 378.26 184.91 C379.09 186.49 379.93 188.03 380.76 189.53 C381.59 191.03 382.43 192.48 383.26 193.90 C384.09 195.32 384.93 196.70 385.76 198.04 C386.59 199.38 387.43 200.68 388.26 201.95 C389.09 203.22 389.93 204.45 390.76 205.65 C391.59 206.85 392.43 208.01 393.26 209.14 C394.09 210.27 394.93 211.36 395.76 212.42 C396.59 213.48 397.43 214.52 398.26 215.52 C399.09 216.52 399.93 217.49 400.76 218.43 C401.59 219.37 402.43 220.28 403.26 221.17 C404.09 222.06 404.93 222.92 405.76 223.75 C406.59 224.58 407.43 225.39 408.26 226.17 C409.09 226.95 409.93 227.71 410.76 228.45 C411.59 229.19 412.43 229.89 413.26 230.58 C414.09 231.27 414.93 231.95 415.76 232.60 C416.59 233.25 417.43 233.88 418.26 234.49 C419.09 235.10 419.93 235.69 420.76 236.27 C421.59 236.85 422.43 237.41 423.26 237.95 C424.09 238.49 424.93 239.02 425.76 239.54 C426.59 240.06 427.43 240.55 428.26 241.04 C429.09 241.53 429.93 242.00 430.76 242.47 C431.59 242.94 432.43 243.39 433.26 243.83 C434.09 244.27 434.93 244.71 435.76 245.13 C436.59 245.55 437.43 245.97 438.26 246.37 C439.09 246.77 439.93 247.17 440.76 247.55 C441.59 247.94 442.43 248.31 443.26 248.68 C444.09 249.05 444.93 249.40 445.76 249.75 C446.59 250.10 447.43 250.43 448.26 250.76 C449.09 251.09 449.93 251.41 450.76 251.73 C451.59 252.04 452.43 252.35 453.26 252.65 C454.09 252.95 454.93 253.24 455.76 253.52 C456.59 253.80 457.43 254.07 458.26 254.34 C459.09 254.61 459.93 254.88 460.76 255.13 C461.59 255.38 462.43 255.63 463.26 255.87 C464.09 256.11 464.93 256.35 465.76 256.58 C466.59 256.81 467.43 257.02 468.26 257.24 C469.09 257.46 469.93 257.67 470.76 257.88 C471.59 258.09 472.43 258.29 473.26 258.48 C474.09 258.68 474.93 258.86 475.76 259.05 C476.59 259.24 477.43 259.42 478.26 259.60 C479.09 259.78 479.93 259.95 480.76 260.12 C481.59 260.29 482.43 260.45 483.26 260.61 C484.09 260.77 484.93 260.93 485.76 261.08 C486.59 261.23 487.43 261.38 488.26 261.53 C489.09 261.68 489.93 261.83 490.76 261.97 C491.59 262.11 492.43 262.25 493.26 262.39 C494.09 262.53 494.93 262.66 495.76 262.79 C496.59 262.92 497.43 263.06 498.26 263.19 C499.09 263.32 499.93 263.44 500.76 263.57 C501.59 263.70 502.43 263.82 503.26 263.95 C504.09 264.07 504.93 264.20 505.76 264.32 C506.59 264.44 507.43 264.57 508.26 264.69 C509.09 264.81 509.93 264.93 510.76 265.05 C511.59 265.17 512.43 265.30 513.26 265.42 C514.09 265.54 514.93 265.67 515.76 265.79 C516.59 265.92 517.43 266.04 518.26 266.17 C519.09 266.30 520.20 266.47 520.76 266.55 C521.32 266.63 521.46 266.66 521.60 266.68" fill="none" stroke="#fa8e86" stroke-width="2.3" stroke-dasharray="2.9 6.7" stroke-linejoin="round" stroke-linecap="round"/>
<path d="M77.9 70.45 H522.8" stroke="#000" stroke-width="2.7" fill="none"/>
<path d="M77.9 490.35 H522.8" stroke="#000" stroke-width="2.8" fill="none"/>
<path d="M79.0 69.15 V491.75" stroke="#000" stroke-width="2.2" fill="none"/>
<path d="M521.5 69.15 V491.75" stroke="#000" stroke-width="2.6" fill="none"/>
<path d="M327.2 351.0 H375.8" fill="none" stroke="#0ccd80" stroke-width="2.4" stroke-linecap="round"/>
<text class="t" transform="translate(382.00 359.40) scale(1.000 1.08)"><tspan class="i">k</tspan><tspan dx="0.8"> = 0.8</tspan></text>
<path d="M327.2 380.4 H375.8" fill="none" stroke="#f80f70" stroke-width="2.4" stroke-dasharray="8.7 12.3" stroke-linecap="round"/>
<text class="t" transform="translate(382.00 388.50) scale(1.000 1.08)"><tspan class="i">k</tspan><tspan dx="0.8"> = 1.0</tspan></text>
<path d="M327.2 410.0 H375.8" fill="none" stroke="#10857f" stroke-width="2.4" stroke-dasharray="10.7 7.3 0.4 8.3" stroke-linecap="round"/>
<text class="t" transform="translate(382.00 418.00) scale(1.000 1.08)"><tspan class="i">k</tspan><tspan dx="0.8"> = 1.2</tspan></text>
<path d="M327.2 439.9 H375.8" fill="none" stroke="#0a0a9c" stroke-width="2.4" stroke-dasharray="6.2 5.3 0.1 5.3" stroke-linecap="round"/>
<text class="t" transform="translate(382.00 447.80) scale(1.000 1.08)"><tspan class="i">k</tspan><tspan dx="0.8"> = 1.4</tspan></text>
<path d="M327.2 469.2 H375.8" fill="none" stroke="#fa8e86" stroke-width="2.3" stroke-dasharray="2.9 6.7" stroke-linecap="round"/>
<text class="t" transform="translate(382.00 477.20) scale(1.000 1.08)"><tspan class="i">k</tspan><tspan dx="0.8"> = 1.6</tspan></text>
<text class="t" transform="translate(79.00 517.00) scale(1.000 1.08)" text-anchor="middle">0.0</text>
<text class="t" transform="translate(167.50 517.00) scale(1.000 1.08)" text-anchor="middle">0.2</text>
<text class="t" transform="translate(256.00 517.00) scale(1.000 1.08)" text-anchor="middle">0.4</text>
<text class="t" transform="translate(344.50 517.00) scale(1.000 1.08)" text-anchor="middle">0.6</text>
<text class="t" transform="translate(433.00 517.00) scale(1.000 1.08)" text-anchor="middle">0.8</text>
<text class="t" transform="translate(521.50 517.00) scale(1.000 1.08)" text-anchor="middle">1.0</text>
<text class="t" transform="translate(79.00 56.80) scale(1.000 1.08)" text-anchor="middle">0</text>
<text class="t" transform="translate(167.50 56.80) scale(1.000 1.08)" text-anchor="middle">100</text>
<text class="t" transform="translate(256.00 56.80) scale(1.000 1.08)" text-anchor="middle">200</text>
<text class="t" transform="translate(344.50 56.80) scale(1.000 1.08)" text-anchor="middle">300</text>
<text class="t" transform="translate(433.00 56.80) scale(1.000 1.08)" text-anchor="middle">400</text>
<text class="t" transform="translate(521.50 56.80) scale(1.000 1.08)" text-anchor="middle">500</text>
<text class="t" transform="translate(71.90 498.25) scale(1.000 1.08)" text-anchor="end">0</text>
<text class="t" transform="translate(71.90 451.59) scale(1.000 1.08)" text-anchor="end">20</text>
<text class="t" transform="translate(71.90 404.94) scale(1.000 1.08)" text-anchor="end">40</text>
<text class="t" transform="translate(71.90 358.28) scale(1.000 1.08)" text-anchor="end">60</text>
<text class="t" transform="translate(71.90 311.63) scale(1.000 1.08)" text-anchor="end">80</text>
<text class="t" transform="translate(71.90 264.97) scale(1.000 1.08)" text-anchor="end">100</text>
<text class="t" transform="translate(71.90 218.32) scale(1.000 1.08)" text-anchor="end">120</text>
<text class="t" transform="translate(71.90 171.66) scale(1.000 1.08)" text-anchor="end">140</text>
<text class="t" transform="translate(71.90 125.01) scale(1.000 1.08)" text-anchor="end">160</text>
<text class="t" transform="translate(71.90 78.35) scale(1.000 1.08)" text-anchor="end">180</text>
<text class="t" transform="translate(272.90 23.30) scale(1.000 1.08)"><tspan class="i">V</tspan></text>
<text class="t" transform="translate(285.90 31.30) scale(1.000 1.08)"><tspan class="s i" style="font-size:16.5px">s</tspan></text>
<text class="t" transform="translate(297.60 23.30) scale(1.000 1.08)"><tspan class="i" style="font-size:24.5px">/</tspan></text>
<text class="t" transform="translate(310.20 23.30) scale(1.000 1.08)">m/s</text>
<text class="t" transform="translate(284.40 543.60) scale(1.000 1.08)"><tspan class="i" style="font-size:23px">T</tspan></text>
<text class="t" transform="translate(303.20 543.60) scale(1.000 1.08)"><tspan class="i" style="font-size:24.5px">/</tspan></text>
<text class="t" transform="translate(316.00 543.60) scale(1.000 1.08)">s</text>
<text class="t" style="font-size:24.6px;" transform="translate(23.80 318.00) rotate(-90) scale(1.250 1.000)">σ</text>
<text class="t" style="font-size:15px;" transform="translate(28.80 304.40) rotate(-90) scale(0.900 1.000)">T</text>
<text class="t" style="font-size:24px;font-style:italic;" transform="translate(22.80 289.70) rotate(-90) scale(1.000 1.000)">/</text>
<text class="t" style="font-size:22.8px;" transform="translate(22.80 278.70) rotate(-90) scale(1.100 1.000)">kPa</text>
<text class="t" transform="translate(111.50 116.30) scale(1.000 1.08)"><tspan class="i">k</tspan><tspan class="s" dy="5.5">h</tspan><tspan dy="-5.5" dx="-0.3" word-spacing="-0.5"> = 0.2</tspan></text>
<text class="t" transform="translate(113.00 148.00) scale(1.160 1.08)"><tspan class="i" style="font-size:23px">ξ</tspan></text>
<text class="t" transform="translate(133.00 148.20) scale(1.000 1.08)">= 0.1</text>
<text class="t" transform="translate(113.20 175.30) scale(1.000 1.08)"><tspan class="i">V</tspan><tspan class="s i" dy="5.5" dx="-1.5">s</tspan><tspan dy="-5.5" dx="-0.8" word-spacing="-1.3"> =</tspan><tspan dx="1.2" word-spacing="-1.3"> 100</tspan><tspan dx="-1" word-spacing="-1.3"> m/s</tspan></text>
<text class="t" transform="translate(111.50 204.00) scale(1.000 1.08)"><tspan class="i">k</tspan><tspan class="s" dy="5.5">v</tspan><tspan dy="-5.5">/</tspan><tspan class="i">k</tspan><tspan class="s" dy="5.5">h</tspan><tspan dy="-5.5" dx="-0.3" word-spacing="-0.5"> = 0.5</tspan></text>
</svg>
</body></html>
